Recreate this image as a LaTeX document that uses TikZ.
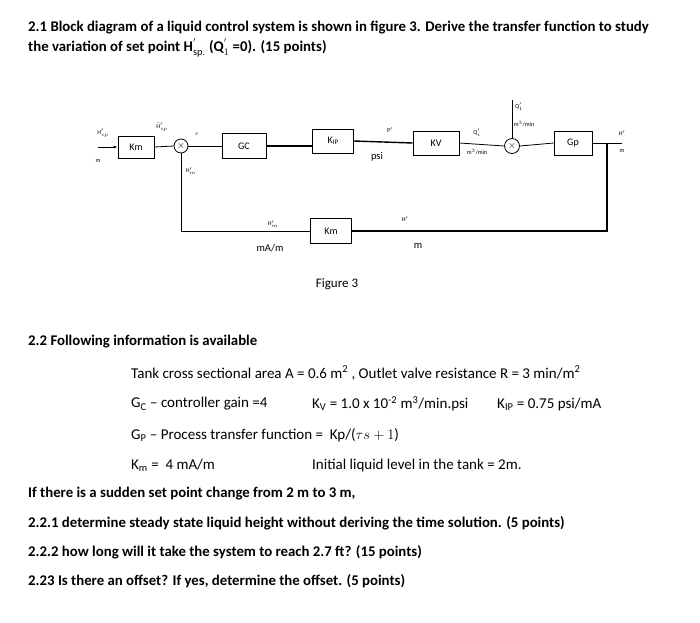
\documentclass[tikz,border=0pt]{standalone}
\usepackage{fontspec}
\setmainfont{Carlito}
\usetikzlibrary{arrows.meta}
\begin{document}
\begin{tikzpicture}[x=1pt,y=-1pt,
 blk/.style={draw,line width=0.8pt,minimum width=#1,minimum height=22pt,inner sep=0pt,font=\fontsize{10}{11}\selectfont},
 blk/.default=40pt,
 sumc/.style={draw,circle,line width=0.8pt,minimum size=14pt,inner sep=0pt},
 ln/.style={line width=0.8pt},
 tiny/.style={font=\fontsize{6}{7}\selectfont,inner sep=1pt},
 lbl/.style={font=\fontsize{10.5}{12}\selectfont,inner sep=1pt},
 txt/.style={anchor=west,inner sep=0pt,font=\fontsize{15}{17}\selectfont},
 btxt/.style={txt,font=\fontsize{14.8}{17}\selectfont\bfseries}]
\useasboundingbox (0,0) rectangle (700,622);
\node[btxt] (t1) at (28,28) {2.1 Block diagram of a liquid control system is shown in figure 3. Derive the transfer function to study};
\node[btxt] (t2) at (28,48) {the variation of set point H$^{'}_{\mathrm{sp.}}$ (Q$_1^{'}$ =0). (15 points)};
% blocks
\node[blk=36pt] (km1) at (136,147) {Km};
\node[sumc] (s1) at (181,146) {$\times$};
\node[blk=44pt,minimum height=25pt] (gc) at (244,146) {GC};
\node[blk=41pt,minimum height=24pt] (kip) at (333,141) {K\raisebox{-1pt}{\scriptsize IP}};
\node[blk=46pt,minimum height=24pt] (kv) at (436,143) {KV};
\node[sumc,minimum size=15pt] (s2) at (512,146) {$\times$};
\node[blk=38pt,minimum height=24pt] (gp) at (573,143) {G\textsc{p}};
\node[blk=41pt,minimum height=25pt] (km2) at (331,231) {Km};
\coordinate (in) at (98,147);
\coordinate (out) at (622,143);
\coordinate (br) at (607,143);
\coordinate (bb) at (607,231);
\coordinate (bl) at (181,231);
\coordinate (qt) at (512,100);
\draw[ln,-{Latex[length=4pt]}] (in) -- (km1.west);
\draw[ln] (km1.east) -- (s1.west);
\draw[ln] (s1.east) -- (gc.west);
\draw[line width=1.4pt] (gc.east) -- (gc.east -| kip.west);
\draw[line width=1.4pt] (kip.east) -- (kv.west);
\draw[ln] (kv.east) -- (s2.west);
\draw[ln] (s2.east) -- (gp.west);
\draw[ln] (gp.east) -- (out);
\draw[ln] (qt) -- (s2.north);
\draw[line width=1.4pt] (br) -- (bb) -- (km2.east);
\draw[ln] (km2.west) -- (bl) -- (s1.south);
% labels
\node[tiny] (l1) at (103,133) {H$'_{sp}$};
\node[tiny] (l2) at (98,161) {m};
\node[tiny] (l3) at (162,127) {$\tilde{\mathrm H}'_{sp}$};
\node[tiny] (l4) at (197,134) {$\varepsilon$};
\node[tiny] (l5) at (191,171) {H$'_m$};
\node[tiny] (l6) at (273,224) {H$'_m$};
\node[lbl] (l7) at (270,248) {mA/m};
\node[lbl] (l8) at (377,157) {psi};
\node[tiny] (l9) at (390,130) {P$'$};
\node[tiny] (l10) at (477,133) {Q$'_i$};
\node[tiny] (l11) at (477,152) {m$^3$/min};
\node[tiny] (l12) at (519,107) {Q$'_1$};
\node[tiny] (l13) at (524,124) {m$^3$/min};
\node[tiny] (l14) at (622,133) {H$'$};
\node[tiny] (l15) at (622,151) {m};
\node[tiny] (l16) at (405,219) {H$'$};
\node[lbl] (l17) at (418,246) {m};
\node[lbl,font=\fontsize{13}{15}\selectfont] (fig) at (337,284) {Figure 3};
% section 2.2
\node[btxt] (s22) at (28,342) {2.2 Following information is available};
\node[txt] (a1) at (131,373) {Tank cross sectional area A = 0.6 m\textsuperscript{2} , Outlet valve resistance R = 3 min/m\textsuperscript{2}};
\node[txt] (a2) at (131,404) {G\textsubscript{C} -- controller gain =4};
\node[txt] (a3) at (312,404) {K\textsubscript{V} = 1.0 x 10\textsuperscript{-2} m\textsuperscript{3}/min.psi};
\node[txt] (a4) at (497,404) {K\textsubscript{IP} = 0.75 psi/mA};
\node[txt] (a5) at (131,435) {G\textsubscript{P} -- Process transfer function = \ Kp/($\tau s+1$)};
\node[txt] (a6) at (131,465) {K\textsubscript{m} = \ 4 mA/m};
\node[txt] (a7) at (312,465) {Initial liquid level in the tank = 2m.};
\node[btxt] (b1) at (28,494) {If there is a sudden set point change from 2 m to 3 m,};
\node[btxt] (b2) at (28,523) {2.2.1 determine steady state liquid height without deriving the time solution. (5 points)};
\node[btxt] (b3) at (28,552) {2.2.2 how long will it take the system to reach 2.7 ft? (15 points)};
\node[btxt] (b4) at (28,581) {2.23 Is there an offset? If yes, determine the offset. (5 points)};
\end{tikzpicture}
\end{document}
